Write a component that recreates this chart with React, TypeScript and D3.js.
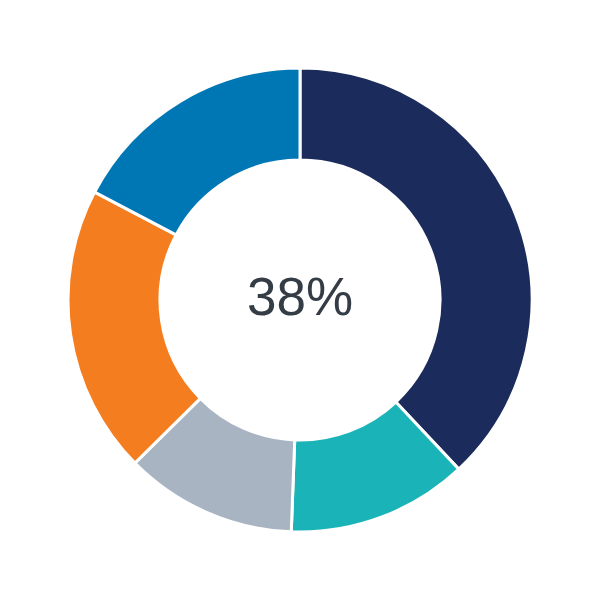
import React from "react";
import * as d3 from "d3";

const categories = ["A", "B", "C", "D", "E"];
const values = [38, 12.6, 12, 20.1, 17.3];
const colors = ["#1b2b5b", "#1ab4b8", "#a8b4c2", "#f47d20", "#0077b5"];
const centerLabel = "38%";

export default function App() {
  const W = 600, H = 600;
  const cx = 300, cy = 300;
  const outer = 232, inner = 140;
  const pie = d3.pie<number>().sort(null).value((d) => d);
  const arcs = pie(values);
  const arc = d3.arc<d3.PieArcDatum<number>>().innerRadius(inner).outerRadius(outer);
  return (
    <svg width={W} height={H} style={{ position: "absolute", left: 0, top: 0, background: "#fff" }}>
      <g transform={`translate(${cx},${cy})`}>
        {arcs.map((a, i) => (
          <path key={categories[i]} d={arc(a) || ""} fill={colors[i]} stroke="#fff" strokeWidth={3} />
        ))}
        <text
          x={0}
          y={15}
          textAnchor="middle"
          fontFamily="'Liberation Sans', Arial, sans-serif"
          fontSize={53}
          fill="#343c46"
        >
          {centerLabel}
        </text>
      </g>
    </svg>
  );
}
